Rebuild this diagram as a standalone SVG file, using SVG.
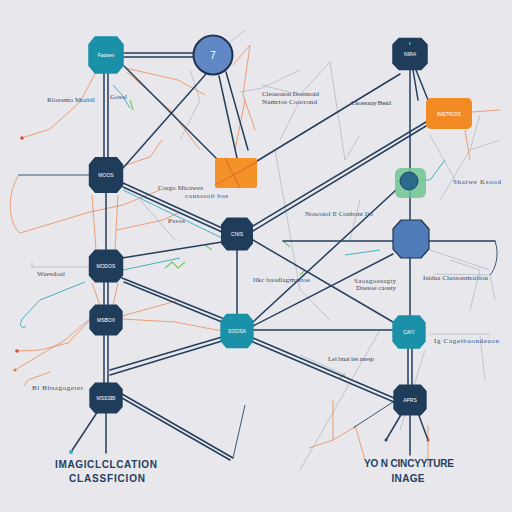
<svg xmlns="http://www.w3.org/2000/svg" width="512" height="512" viewBox="0 0 512 512">
<defs>
<style>
.m{stroke:#243f5d;stroke-width:1.5;fill:none;stroke-linecap:round}
.mt{stroke:#2a4563;stroke-width:0.9;fill:none}
.o{stroke:#ec7a3c;stroke-width:0.8;fill:none;opacity:0.85}
.g{stroke:#a6abb6;stroke-width:0.6;fill:none}
.t{stroke:#37a9bb;stroke-width:0.9;fill:none}
.gr{stroke:#7cc46a;stroke-width:1.2;fill:none}
.nv{fill:#1f3d5b;stroke:#1f3d5b;stroke-width:1.5;stroke-linejoin:round}
.tl{fill:#1a91a8;stroke:#1a91a8;stroke-width:1.5;stroke-linejoin:round}
.in{font-family:"Liberation Sans",Arial,sans-serif;font-size:5px;fill:#ffffff;text-anchor:middle}
.lb{font-family:"Liberation Serif","Times New Roman",serif;font-size:7px;fill:#3c4a5e}
.ti{font-family:"Liberation Sans",Arial,sans-serif;font-size:10px;font-weight:bold;fill:#223f62;text-anchor:middle}
</style>
<path id="oct" d="M-11,-17 L11,-17 L17,-10 L17,10 L11,17 L-11,17 L-17,10 L-17,-10 Z"/>
</defs>
<rect width="512" height="512" fill="#e8e7eb"/>

<g id="connectors">
<path class="g" d="M262,85 L300,95 L330,62 M240,92 L262,88 L300,70 M330,62 L345,160 M300,100 L280,140 M275,150 L300,290 M345,160 L360,135 M440,200 L470,150 L480,115 M470,150 L500,140 M430,135 L455,180 M425,350 L400,430 M300,290 L330,320 M380,330 L300,470 M360,200 L350,240 M450,260 L480,270 L470,310 M180,140 L200,100 L190,70 M140,200 L175,240 M430,250 L490,270 M300,355 L345,375 M215,55 L245,30 M480,335 L485,380"/>
<path class="g" d="M32,267 L90,267 M32,262 L32,268 M430,334 L490,334 M434,274 L490,275 L495,300"/>

<path class="o" d="M22,138 L50,129 L80,102 L96,72"/>
<path class="o" d="M18,176 C5,200 10,225 20,233 L90,212 L123,205 L160,190"/>
<path class="o" d="M125,68 L178,80 L205,95 M127,72 L170,110 L200,150 M233,65 L250,45 L243,95 L255,130 M245,100 L235,150"/>
<path class="o" d="M123,166 L150,157 L162,140 M92,195 L96,250 M118,195 L115,250 M117,230 L163,220 L180,212"/>
<path class="o" d="M122,319 L175,322 L222,331 M122,316 L180,300 M17,351 L40,350 L68,343 L90,320 M15,370 L35,358 L65,340 L92,317 M24,386 L28,380 L50,372 M92,283 L100,305 M118,283 L113,305"/>
<path class="o" d="M309,448 L333,440 L353,428 M333,400 L333,440 M428,425 L428,467 M355,425 L365,460 M472,112 L500,110 M465,130 L470,160"/>
<circle cx="22" cy="138" r="1.8" fill="#d9502f"/>
<circle cx="17" cy="351" r="1.8" fill="#d9502f"/>
<circle cx="15" cy="370" r="1.5" fill="#e67a2c"/>

<path class="t" d="M85,282 L40,300 L23,318 C18,325 22,330 26,326"/>
<path class="t" d="M113,85 L122,95 L130,108 M123,190 L222,238 M123,270 L180,258"/>
<path class="gr" d="M165,268 L172,262 L178,268 L185,262 M283,241 L290,247 M300,275 L305,270 M340,378 L345,374 M130,100 L133,110 M205,245 L212,250"/>
<path class="t" d="M345,255 L380,250 M410,180 L430,180 L445,160"/>

<path class="m" d="M123,53 H193 M123,57 H193"/>
<path class="m" d="M104,73 V158 M108,73 V158"/>
<path class="m" d="M124,66 L218,160 M206,74 L123,168 M219,76 L237,158 M226,72 L248,150"/>
<path class="m" d="M410,70 V222 M410,258 V316 M408,348 V385 M412,348 V385 M410,415 V455"/>
<path class="m" d="M416,70 L428,100 M413,70 L418,100"/>
<path class="m" d="M402,413 L386,440 M418,413 L428,440"/>
<path class="m" d="M98,411 L71,452 M106,413 V453"/>
<path class="m" d="M106,193 V250 M104,282 V305 M108,282 V305 M104,335 V383 M108,335 V383"/>
<path class="m" d="M237,250 V315"/>
<path class="m" d="M123,183 L222,228 M123,187 L222,232"/>
<path class="m" d="M122,258 L222,242"/>
<path class="m" d="M122,278 L222,318 M124,282 L222,322"/>
<path class="m" d="M110,370 L222,337 M110,375 L222,341"/>
<path class="m" d="M122,394 L233,458 M122,398 L230,460"/>
<path class="m" d="M253,330 L393,330"/>
<path class="m" d="M253,326 L393,254"/>
<path class="m" d="M253,322 L396,190"/>
<path class="m" d="M253,338 L394,398 M253,342 L394,402"/>
<path class="m" d="M253,240 L393,322"/>
<path class="m" d="M253,226 L426,122 M253,231 L426,126"/>
<path class="m" d="M257,161 L400,74"/>
<path class="m" d="M283,241 L393,241 M429,241 L495,241"/>
<path class="mt" d="M90,175 L18,175 M393,402 L353,428 M495,241 C500,255 495,270 490,275 M233,458 L245,405"/>
<circle cx="71" cy="452" r="2" fill="#2fb0bf"/>
<circle cx="386" cy="440" r="1.5" fill="#2a4563"/>
<circle cx="428" cy="440" r="1.5" fill="#b5473a"/>
</g>

<g id="n1"><use href="#oct" class="tl" transform="translate(106,55) scale(1,1.05)"/><text class="in" x="106" y="57">Faosen</text></g>
<g id="n2"><circle cx="213" cy="55" r="19.5" fill="#6188c4" stroke="#1e3350" stroke-width="2"/><text x="213" y="59" font-family="Liberation Sans,Arial,sans-serif" font-size="10" fill="#ffffff" text-anchor="middle">7</text></g>
<g id="n3"><use href="#oct" class="nv" transform="translate(410,54) scale(1,0.92)"/><rect x="409" y="42" width="1.5" height="3" fill="#2fb0bf"/><text class="in" x="410" y="56">NIRA</text></g>
<g id="n4"><rect x="426" y="98" width="46" height="31" rx="5" fill="#f28a23"/><text class="in" x="449" y="116" font-size="5.5">IMETROIS</text></g>
<g id="n5"><rect x="215" y="158" width="42" height="30" rx="2" fill="#f4922a"/><path d="M215,185 L257,162 M225,158 L240,188" stroke="#d95a2a" stroke-width="0.8"/></g>
<g id="n6"><use href="#oct" class="nv" transform="translate(106,175) scale(0.97,1.02)"/><text class="in" x="106" y="177">MOOS</text></g>
<g id="n7"><use href="#oct" class="nv" transform="translate(237,234) scale(0.9,0.93)"/><text class="in" x="237" y="236">CNIS</text></g>
<g id="n8"><use href="#oct" class="nv" transform="translate(106,266) scale(0.97,0.93)"/><text class="in" x="106" y="268">MODOS</text></g>
<g id="n9"><use href="#oct" class="nv" transform="translate(106,320) scale(0.94,0.88)"/><text class="in" x="106" y="322">MSBOX</text></g>
<g id="n10"><use href="#oct" class="nv" transform="translate(106,398) scale(0.94,0.88)"/><text class="in" x="106" y="400">MSSSBI</text></g>
<g id="n11"><use href="#oct" class="tl" transform="translate(237,331) scale(0.94,0.97)"/><text class="in" x="237" y="333">SOOSA</text></g>
<g id="n12"><rect x="395" y="168" width="31" height="30" rx="6" fill="#70c493" opacity="0.85"/><circle cx="409" cy="181" r="9" fill="#2b6a8a" stroke="#1e4a6a" stroke-width="1"/></g>
<g id="n13"><path d="M401,220 L421,220 L429,229 L429,249 L421,258 L401,258 L393,249 L393,229 Z" fill="#4f7bb8" stroke="#1f3550" stroke-width="1.2" stroke-linejoin="round"/></g>
<g id="n14"><use href="#oct" class="tl" transform="translate(409,332) scale(0.94,0.94)"/><text class="in" x="409" y="334">CAIY</text></g>
<g id="n15"><use href="#oct" class="nv" transform="translate(410,400) scale(0.94,0.88)"/><text class="in" x="410" y="402">APRS</text></g>

<g id="labels">
<text class="lb" x="47" y="102" textLength="48">Rloeamo Morbil</text>
<text class="lb" x="110" y="99" textLength="17">Gosol</text>
<text class="lb" x="262" y="96" textLength="57">Cleoaoaon Doensoid</text>
<text class="lb" x="262" y="104" textLength="55">Namrtos Coorrond</text>
<text class="lb" x="351" y="105" textLength="40">Ckossoray Bssid</text>
<text class="lb" x="158" y="190" font-size="6" textLength="45">Corgo Micawes</text>
<text class="lb" x="185" y="198" font-size="6" textLength="43">cousorob bos</text>
<text class="lb" x="168" y="223" textLength="17">Pssos</text>
<text class="lb" x="453" y="184" textLength="48">Shaiwe Ksood</text>
<text class="lb" x="305" y="216" textLength="68">Noscoiol Il Conbont Ii.l</text>
<text class="lb" x="253" y="282" textLength="57">Ilkc baodlagmastoe</text>
<text class="lb" x="354" y="283" textLength="42">Saoagoasagty</text>
<text class="lb" x="356" y="290" textLength="40">Daesoe caosty</text>
<text class="lb" x="423" y="280" textLength="65">Isidua Clussonmortion</text>
<text class="lb" x="434" y="343" textLength="65">Ig Cagetbaondeaon</text>
<text class="lb" x="328" y="361" textLength="46">Lei bnat les rnesp</text>
<text class="lb" x="37" y="276" textLength="28">Waesdoal</text>
<text class="lb" x="32" y="390" textLength="51">Bl Bbsagogeter</text>
<text class="ti" x="106" y="468" textLength="102">IMAGICLCLCATION</text>
<text class="ti" x="107" y="482" textLength="76">CLASSFICION</text>
<text class="ti" x="409" y="467" textLength="90">YO N CINCYYTURE</text>
<text class="ti" x="408" y="482" textLength="33">INAGE</text>
</g>
</svg>
